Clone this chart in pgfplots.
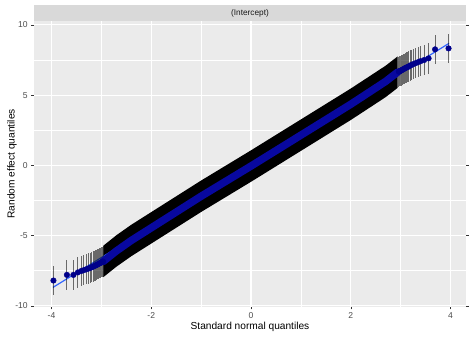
\documentclass[border=0pt]{standalone}
\usepackage{fontspec}
\setmainfont{Liberation Sans}
\usepackage{pgfplots}
\pgfplotsset{compat=1.18}
\definecolor{panelgrey}{HTML}{EBEBEB}
\definecolor{stripgrey}{HTML}{D9D9D9}
\definecolor{grey30}{HTML}{4D4D4D}
\definecolor{grey20}{HTML}{333333}
\definecolor{grey10}{HTML}{1A1A1A}
\definecolor{ptblue}{HTML}{00008B}
\definecolor{bandblue}{HTML}{0808A0}
\definecolor{lineblue}{HTML}{3366FF}
\begin{document}
\begin{tikzpicture}
\path[use as bounding box] (0bp,0bp) rectangle (474bp,338bp);
\begin{axis}[
  at={(34bp,31.5bp)}, anchor=south west,
  scale only axis, width=432bp, height=285.5bp,
  xmin=-4.35, xmax=4.31, ymin=-10.05, ymax=10.28,
  axis background/.style={fill=panelgrey},
  axis line style={draw=none},
  xtick={-4,-2,0,2,4}, xticklabels={-4,-2,0,2,4},
  ytick={-10,-5,0,5,10}, yticklabels={-10,-5,0,5,10},
  minor xtick={-3,-1,1,3}, minor ytick={-7.5,-2.5,2.5,7.5},
  grid=both,
  major grid style={white, line width=1.07bp},
  minor grid style={white, line width=0.53bp},
  tick align=outside, major tick length=2.75bp, minor tick length=0bp,
  tick style={grey20, line width=0.5bp},
  ticklabel style={font=\fontsize{8.6}{9}\selectfont, text=grey30},
  clip=true,
]
% dense band of overlapping error bars
\addplot[fill=black, draw=none] coordinates {
(-2.96,-7.96) (-2.7,-7.22) (-2.4,-6.47) (-2.0,-5.57) (-1.0,-3.32) (0,-1.17) (1,1.03) (2,3.23) (2.4,4.16) (2.7,4.86) (2.94,5.52)
(2.94,7.76) (2.7,7.10) (2.4,6.40) (2,5.47) (1,3.27) (0,1.07) (-1,-1.08) (-2,-3.33) (-2.4,-4.23) (-2.7,-4.98) (-2.96,-5.72)
} -- cycle;
% reference line
\addplot[lineblue, line width=1.2bp] coordinates {(-3.97,-8.69) (3.97,8.69)};
% tails: individual points with error bars
\addplot[only marks, mark=*, mark size=2.8bp, mark options={fill=ptblue, draw=ptblue},
  error bars/.cd, y dir=both, y explicit, error mark=none,
  error bar style={black, opacity=0.55, line width=0.9bp}] coordinates {
(-3.96,-8.20) +- (0,1.05)
(-3.69,-7.80) +- (0,1.08)
(-3.56,-7.80) +- (0,1.08)
(-3.47,-7.62) +- (0,1.08)
(-3.40,-7.52) +- (0,1.08)
(-3.35,-7.46) +- (0,1.08)
(-3.30,-7.40) +- (0,1.08)
(-3.26,-7.35) +- (0,1.08)
(-3.22,-7.30) +- (0,1.08)
(-3.19,-7.25) +- (0,1.08)
(-3.16,-7.20) +- (0,1.08)
(-3.14,-7.16) +- (0,1.08)
(-3.11,-7.12) +- (0,1.08)
(-3.09,-7.08) +- (0,1.08)
(-3.07,-7.04) +- (0,1.08)
(-3.05,-7.00) +- (0,1.08)
(-3.03,-6.96) +- (0,1.08)
(-3.01,-6.93) +- (0,1.08)
(-2.995,-6.90) +- (0,1.08)
(-2.98,-6.87) +- (0,1.08)
(-2.965,-6.85) +- (0,1.08)
(3.96,8.33) +- (0,1.02)
(3.69,8.26) +- (0,1.05)
(3.56,7.62) +- (0,1.08)
(3.47,7.50) +- (0,1.08)
(3.40,7.42) +- (0,1.08)
(3.35,7.35) +- (0,1.08)
(3.30,7.28) +- (0,1.08)
(3.26,7.22) +- (0,1.08)
(3.22,7.16) +- (0,1.08)
(3.19,7.10) +- (0,1.08)
(3.16,7.05) +- (0,1.08)
(3.14,7.00) +- (0,1.08)
(3.11,6.96) +- (0,1.08)
(3.09,6.92) +- (0,1.08)
(3.07,6.88) +- (0,1.08)
(3.05,6.84) +- (0,1.08)
(3.03,6.80) +- (0,1.08)
(3.01,6.76) +- (0,1.08)
(2.995,6.73) +- (0,1.08)
(2.98,6.70) +- (0,1.08)
(2.965,6.67) +- (0,1.08)
};
% dense run of points in the middle
\addplot[bandblue, line width=7.5bp, line cap=round] coordinates {
(-2.96,-6.84) (-2.7,-6.1) (-2.4,-5.35) (-2.0,-4.45) (-1.0,-2.2) (0,-0.05) (1,2.15) (2,4.35) (2.4,5.28) (2.7,5.98) (2.94,6.64)
};
\end{axis}
\fill[stripgrey] (34bp,317bp) rectangle (466bp,333bp);
\node[text=grey10, font=\fontsize{8.3}{9}\selectfont] at (250bp,325bp) {(Intercept)};
\node[font=\fontsize{10.2}{12}\selectfont] at (250bp,11bp) {Standard normal quantiles};
\node[rotate=90, font=\fontsize{10.2}{12}\selectfont] at (12bp,174.25bp) {Random effect quantiles};
\end{tikzpicture}
\end{document}
